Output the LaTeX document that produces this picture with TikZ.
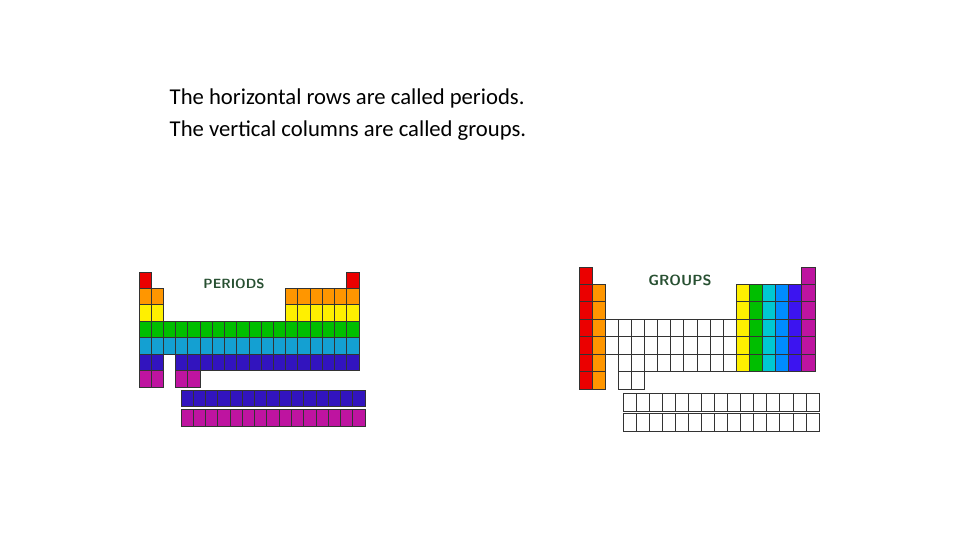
\documentclass[tikz,border=0pt]{standalone}
\usepackage{fontspec}
\setmainfont{Carlito}
\begin{document}
\begin{tikzpicture}[x=0.75pt,y=-0.75pt,
  cell/.style={draw=black!80,line width=0.6pt}]
\useasboundingbox (0,0) rectangle (960,540);
\definecolor{cR}{RGB}{235,0,0}\definecolor{cO}{RGB}{255,150,0}
\definecolor{cY}{RGB}{255,240,0}\definecolor{cG}{RGB}{0,190,0}
\definecolor{cT}{RGB}{20,160,210}\definecolor{cB}{RGB}{50,20,190}
\definecolor{cM}{RGB}{190,20,160}\definecolor{cC}{RGB}{0,200,210}
\definecolor{cL}{RGB}{0,140,255}\definecolor{cV}{RGB}{60,20,240}
\definecolor{txtG}{RGB}{40,80,50}
\node[anchor=west,font=\fontsize{17}{20}\selectfont] (t1) at (165,98) {The horizontal rows are called periods.};
\node[anchor=west,font=\fontsize{17}{20}\selectfont] (t2) at (165,131) {The vertical columns are called groups.};
% periods table
\def\pw{12.22}\def\ph{16.43}
\newcommand{\pc}[3]{\fill[#3,cell] ({139+(#1-1)*\pw},{272+(#2-1)*\ph}) rectangle ++(\pw,\ph);}
\foreach \c in {1,18}{\pc{\c}{1}{cR}}
\foreach \c in {1,2,13,14,15,16,17,18}{\pc{\c}{2}{cO}\pc{\c}{3}{cY}}
\foreach \c in {1,...,18}{\pc{\c}{4}{cG}\pc{\c}{5}{cT}}
\foreach \c in {1,2,4,5,...,18}{\pc{\c}{6}{cB}}
\foreach \c in {1,2,4,5}{\pc{\c}{7}{cM}}
\foreach \c in {0,...,14}{
 \fill[cB,cell] ({181+\c*12.27},390) rectangle ++(12.27,16.5);
 \fill[cM,cell] ({181+\c*12.27},409.5) rectangle ++(12.27,16.5);}
\node[font=\sffamily\bfseries\fontsize{10}{12}\selectfont,text=txtG] (pl) at (234,284) {PERIODS};
% groups table
\def\gw{13.11}\def\gh{17.43}
\newcommand{\gc}[3]{\fill[#3,cell] ({579+(#1-1)*\gw},{267+(#2-1)*\gh}) rectangle ++(\gw,\gh);}
\foreach \r in {1,...,7}{\gc{1}{\r}{cR}}
\foreach \r in {2,...,7}{\gc{2}{\r}{cO}}
\foreach \c in {3,...,12}{\gc{\c}{4}{white}\gc{\c}{5}{white}}
\foreach \c in {4,...,12}{\gc{\c}{6}{white}}
\foreach \c in {4,5}{\gc{\c}{7}{white}}
\foreach \r in {2,...,6}{\gc{13}{\r}{cY}\gc{14}{\r}{cG}\gc{15}{\r}{cC}\gc{16}{\r}{cL}\gc{17}{\r}{cV}}
\foreach \r in {1,...,6}{\gc{18}{\r}{cM}}
\foreach \c in {0,...,14}{
 \fill[white,cell] ({623+\c*13.07},393) rectangle ++(13.07,18);
 \fill[white,cell] ({623+\c*13.07},413) rectangle ++(13.07,18);}
\node[font=\sffamily\bfseries\fontsize{11}{12}\selectfont,text=txtG] (gl) at (680,280) {GROUPS};
\end{tikzpicture}
\end{document}
